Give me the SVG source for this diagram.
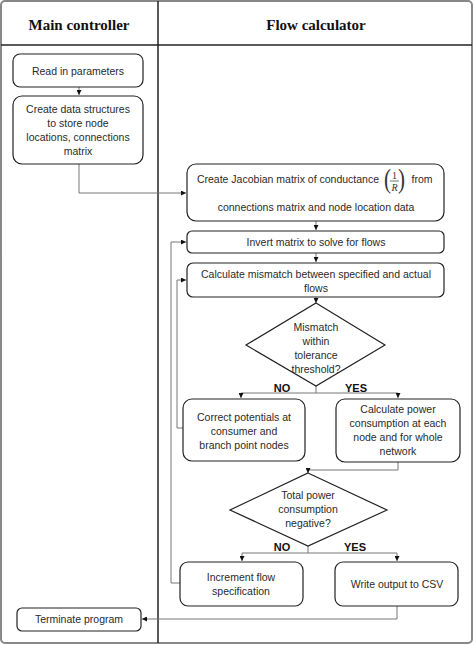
<svg xmlns="http://www.w3.org/2000/svg" width="474" height="645" viewBox="0 0 474 645">
<defs>
<marker id="ah" viewBox="0 0 10 10" refX="10" refY="5" markerWidth="5" markerHeight="5" orient="auto" markerUnits="userSpaceOnUse">
<path d="M0,0 L10,5 L0,10 z" fill="#111"/>
</marker>
<style>
.box{fill:#fff;stroke:#222;stroke-width:1.2}
.t{font-family:"Liberation Sans",Arial,sans-serif;font-size:10.5px;fill:#2a2a2a;text-anchor:middle}
.h{font-family:"Liberation Serif","Times New Roman",serif;font-size:15px;font-weight:bold;fill:#111;text-anchor:middle}
.lb{font-family:"Liberation Sans",Arial,sans-serif;font-size:11px;font-weight:bold;fill:#111;text-anchor:middle}
.m{font-family:"Liberation Serif","Times New Roman",serif;fill:#333}
.ca{fill:none;stroke:#777;stroke-width:1;marker-end:url(#ah)}
</style>
</defs>
<rect x="0" y="0" width="474" height="645" fill="#fff"/>
<g id="frame">
<rect x="1" y="1" width="471" height="642" rx="4" fill="none" stroke="#888" stroke-width="2"/>
<line x1="158" y1="1" x2="158" y2="643" stroke="#222" stroke-width="1.5"/>
<line x1="1" y1="45" x2="472" y2="45" stroke="#222" stroke-width="1.5"/>
<text class="h" x="79" y="30">Main controller</text>
<text class="h" x="316" y="30">Flow calculator</text>
</g>
<g id="connectors">
<path class="ca" d="M79,87 V95"/>
<path class="ca" d="M79,164 V193 H186"/>
<path class="ca" d="M316,221 V230"/>
<path class="ca" d="M316,253 V262"/>
<path class="ca" d="M316,297 V303"/>
<path class="ca" d="M316,386 V393 H241 V398"/>
<path class="ca" d="M316,393 H398 V398"/>
<path class="ca" d="M183,428 H177 V280 H186"/>
<path class="ca" d="M398,462 V470 H308 V473"/>
<path class="ca" d="M308,546 V553 H242 V561"/>
<path class="ca" d="M308,553 H397 V561"/>
<path class="ca" d="M180,583 H171 V242 H186"/>
<path class="ca" d="M397,606 V619 H142"/>
</g>
<g id="read">
<rect class="box" x="13" y="54" width="130" height="33" rx="7"/>
<text class="t" x="78" y="74.5">Read in parameters</text>
</g>
<g id="create">
<rect class="box" x="13" y="96" width="130" height="68" rx="9"/>
<text class="t" x="78" y="112.5">Create data structures</text>
<text class="t" x="78" y="126.5">to store node</text>
<text class="t" x="78" y="140.5">locations, connections</text>
<text class="t" x="78" y="154.5">matrix</text>
</g>
<g id="jacobian">
<rect class="box" x="187" y="164" width="257" height="57" rx="9"/>
<text class="t" x="288" y="182.5">Create Jacobian matrix of conductance</text>
<text class="m" font-size="21" transform="translate(384,188) scale(1,1.35)">(</text>
<text class="m" font-size="21" transform="translate(398,188) scale(1,1.35)">)</text>
<text class="m" font-size="10" text-anchor="middle" x="394.5" y="178.5">1</text>
<line x1="390" y1="181" x2="399" y2="181" stroke="#333" stroke-width="0.7"/>
<text class="m" font-size="10" font-style="italic" text-anchor="middle" x="394.5" y="191">R</text>
<text class="t" x="422" y="182.5">from</text>
<text class="t" x="316" y="210.5">connections matrix and node location data</text>
</g>
<g id="invert">
<rect class="box" x="187" y="231" width="257" height="22" rx="5"/>
<text class="t" x="316" y="245.5">Invert matrix to solve for flows</text>
</g>
<g id="mismatch">
<rect class="box" x="187" y="263" width="257" height="34" rx="6"/>
<text class="t" x="316" y="277.5">Calculate mismatch between specified and actual</text>
<text class="t" x="316" y="291.5">flows</text>
</g>
<g id="decision1">
<polygon class="box" points="316,303 385,345 316,386 246,345"/>
<text class="t" x="316" y="330.5">Mismatch</text>
<text class="t" x="316" y="344.5">within</text>
<text class="t" x="316" y="358.5">tolerance</text>
<text class="t" x="316" y="372.5">threshold?</text>
<text class="lb" x="282" y="392">NO</text>
<text class="lb" x="356" y="392">YES</text>
</g>
<g id="correct">
<rect class="box" x="183" y="399" width="122" height="62" rx="9"/>
<text class="t" x="244" y="420.5">Correct potentials at</text>
<text class="t" x="244" y="434.5">consumer and</text>
<text class="t" x="244" y="448.5">branch point nodes</text>
</g>
<g id="power">
<rect class="box" x="336" y="399" width="124" height="63" rx="9"/>
<text class="t" x="398" y="412.5">Calculate power</text>
<text class="t" x="398" y="426.5">consumption at each</text>
<text class="t" x="398" y="440.5">node and for whole</text>
<text class="t" x="398" y="454.5">network</text>
</g>
<g id="decision2">
<polygon class="box" points="308,473 387,510 308,546 230,510"/>
<text class="t" x="308" y="498.5">Total power</text>
<text class="t" x="308" y="512.5">consumption</text>
<text class="t" x="308" y="526.5">negative?</text>
<text class="lb" x="282" y="551">NO</text>
<text class="lb" x="355" y="551">YES</text>
</g>
<g id="increment">
<rect class="box" x="180" y="562" width="123" height="44" rx="8"/>
<text class="t" x="241" y="580.5">Increment flow</text>
<text class="t" x="241" y="594.5">specification</text>
</g>
<g id="write">
<rect class="box" x="335" y="562" width="123" height="44" rx="8"/>
<text class="t" x="397" y="587.5">Write output to CSV</text>
</g>
<g id="terminate">
<rect class="box" x="17" y="608" width="124" height="23" rx="5"/>
<text class="t" x="79" y="623">Terminate program</text>
</g>
</svg>
